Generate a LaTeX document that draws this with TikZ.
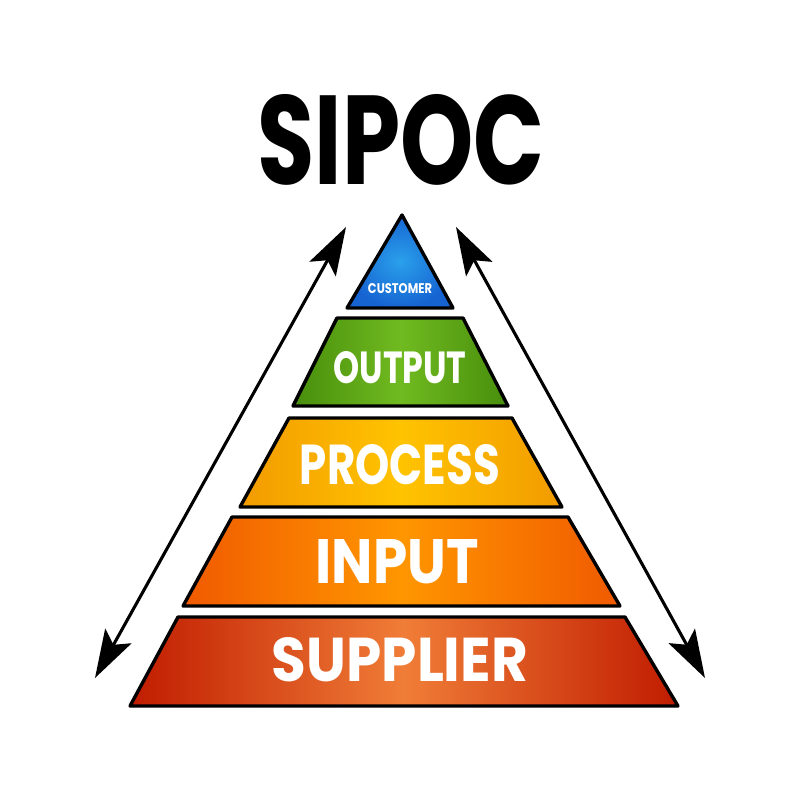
\documentclass[tikz,border=0pt]{standalone}
\usepackage{fontspec}
\usepackage{graphicx}
\usetikzlibrary{arrows.meta}
\newfontfamily\hand{Poppins}
\definecolor{supE}{RGB}{192,28,0}
\definecolor{supM}{RGB}{240,125,55}
\definecolor{inpE}{RGB}{240,90,0}
\definecolor{inpM}{RGB}{255,150,0}
\definecolor{proE}{RGB}{242,155,0}
\definecolor{proM}{RGB}{255,195,0}
\definecolor{outE}{RGB}{72,142,12}
\definecolor{outM}{RGB}{112,186,32}
\definecolor{cusE}{RGB}{22,100,210}
\definecolor{cusM}{RGB}{42,160,235}
\tikzset{
  layer/.style={draw=black, line width=2.4pt, line join=round},
  lbl/.style={text=white, inner sep=0pt, font=\hand\bfseries},
  arr/.style={draw=black, line width=2.2pt, {Stealth[length=1.2cm,width=0.75cm,inset=0.25cm]}-{Stealth[length=1.2cm,width=0.75cm,inset=0.25cm]}}
}
\newcommand{\fitbox}[3]{\resizebox{#1}{#2}{#3}}
\begin{document}
\begin{tikzpicture}[x=0.025cm,y=-0.025cm]
\useasboundingbox[fill=white] (0,0) rectangle (800,800);
% layers
\shade[layer, left color=supE, right color=supE, middle color=supM] (178,617) -- (625,617) -- (678,706) -- (130,706) -- cycle;
\shade[layer, left color=inpE, right color=inpE, middle color=inpM] (232,517) -- (568,517) -- (620,606) -- (183,606) -- cycle;
\shade[layer, left color=proE, right color=proE, middle color=proM] (289,418) -- (512,418) -- (562,507) -- (240,507) -- cycle;
\shade[layer, left color=outE, right color=outE, middle color=outM] (337,318) -- (463,318) -- (508,406) -- (293,406) -- cycle;
\shade[layer, inner color=cusM, outer color=cusE] (402,215) -- (453,308) -- (347,308) -- cycle;
% labels
\node[lbl] (sipoc) at (401,140) {\color{black}\fitbox{7.175cm}{2.25cm}{SIPOC}};
\node[lbl] (supplier) at (400,660) {\fitbox{6.4cm}{1.1cm}{SUPPLIER}};
\node[lbl] (input) at (397,562) {\fitbox{4.075cm}{1.1cm}{INPUT}};
\node[lbl] (process) at (400,465) {\fitbox{5cm}{1cm}{PROCESS}};
\node[lbl] (output) at (400,368) {\fitbox{3.325cm}{0.8cm}{OUTPUT}};
\node[lbl] (customer) at (400,289) {\fitbox{1.6cm}{0.25cm}{CUSTOMER}};
% arrows
\coordinate (la) at (95,678);
\coordinate (lb) at (346,227);
\coordinate (ra) at (456,227);
\coordinate (rb) at (705,678);
\draw[arr] (la) -- (lb);
\draw[arr] (ra) -- (rb);
\end{tikzpicture}
\end{document}
